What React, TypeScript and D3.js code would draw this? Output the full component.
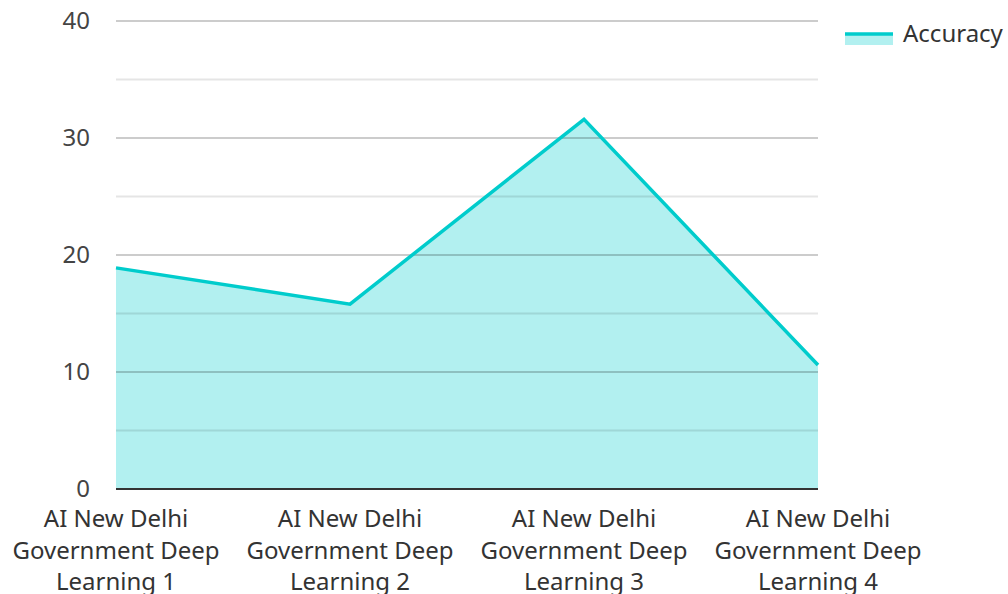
import React from "react";
import * as d3 from "d3";

const categories = [
  "AI New Delhi Government Deep Learning 1",
  "AI New Delhi Government Deep Learning 2",
  "AI New Delhi Government Deep Learning 3",
  "AI New Delhi Government Deep Learning 4",
];
const accuracy = [18.9, 15.8, 31.6, 10.6];
const majorTicks = [0, 10, 20, 30, 40];
const minorTicks = [5, 15, 25, 35];
const labelLines = [
  ["AI New Delhi", "Government Deep", "Learning 1"],
  ["AI New Delhi", "Government Deep", "Learning 2"],
  ["AI New Delhi", "Government Deep", "Learning 3"],
  ["AI New Delhi", "Government Deep", "Learning 4"],
];

const W = 1008;
const H = 594;
const margin = { top: 21, right: 190, bottom: 105, left: 116 };
const font = "'Noto Sans', 'Open Sans', sans-serif";
const teal = "#00cccc";

export default function App() {
  const x = d3
    .scalePoint<string>()
    .domain(categories)
    .range([margin.left, W - margin.right]);
  const y = d3
    .scaleLinear()
    .domain([0, 40])
    .range([H - margin.bottom, margin.top]);

  const pts: [number, number][] = categories.map((c, i) => [x(c) || 0, y(accuracy[i])]);
  const area = d3
    .area<[number, number]>()
    .x(d => d[0])
    .y0(y(0))
    .y1(d => d[1]);
  const line = d3.line<[number, number]>().x(d => d[0]).y(d => d[1]);

  const x0 = margin.left;
  const x1 = W - margin.right;

  return (
    <svg
      width={W}
      height={H}
      style={{ position: "absolute", left: 0, top: 0, fontFamily: font }}
    >
      <path d={area(pts) || ""} fill={teal} fillOpacity={0.3} />
      {minorTicks.map(t => (
        <line key={"m" + t} x1={x0} x2={x1} y1={y(t)} y2={y(t)} stroke="rgba(0,0,0,0.1)" strokeWidth={2} />
      ))}
      {majorTicks.slice(1).map(t => (
        <line key={"M" + t} x1={x0} x2={x1} y1={y(t)} y2={y(t)} stroke="rgba(0,0,0,0.2)" strokeWidth={2} />
      ))}
      <path d={line(pts) || ""} fill="none" stroke={teal} strokeWidth={3.5} strokeLinejoin="miter" />
      <line x1={x0} x2={x1} y1={y(0)} y2={y(0)} stroke="#333" strokeWidth={2} />
      {majorTicks.map(t => (
        <text key={"t" + t} x={90} y={y(t)} dy="0.35em" textAnchor="end" fontSize={24} fill="#444">
          {t}
        </text>
      ))}
      {categories.map((c, i) => (
        <text key={c} x={x(c)} textAnchor="middle" fontSize={24} fill="#333">
          {labelLines[i].map((l, j) => (
            <tspan key={j} x={x(c)} y={527 + j * 31.5}>
              {l}
            </tspan>
          ))}
        </text>
      ))}
      <g>
        <rect x={845} y={35} width={48} height={10} fill={teal} fillOpacity={0.3} />
        <line x1={845} x2={893} y1={34} y2={34} stroke={teal} strokeWidth={3.5} />
        <text x={903} y={34} dy="0.35em" fontSize={24} fill="#333">
          Accuracy
        </text>
      </g>
    </svg>
  );
}
